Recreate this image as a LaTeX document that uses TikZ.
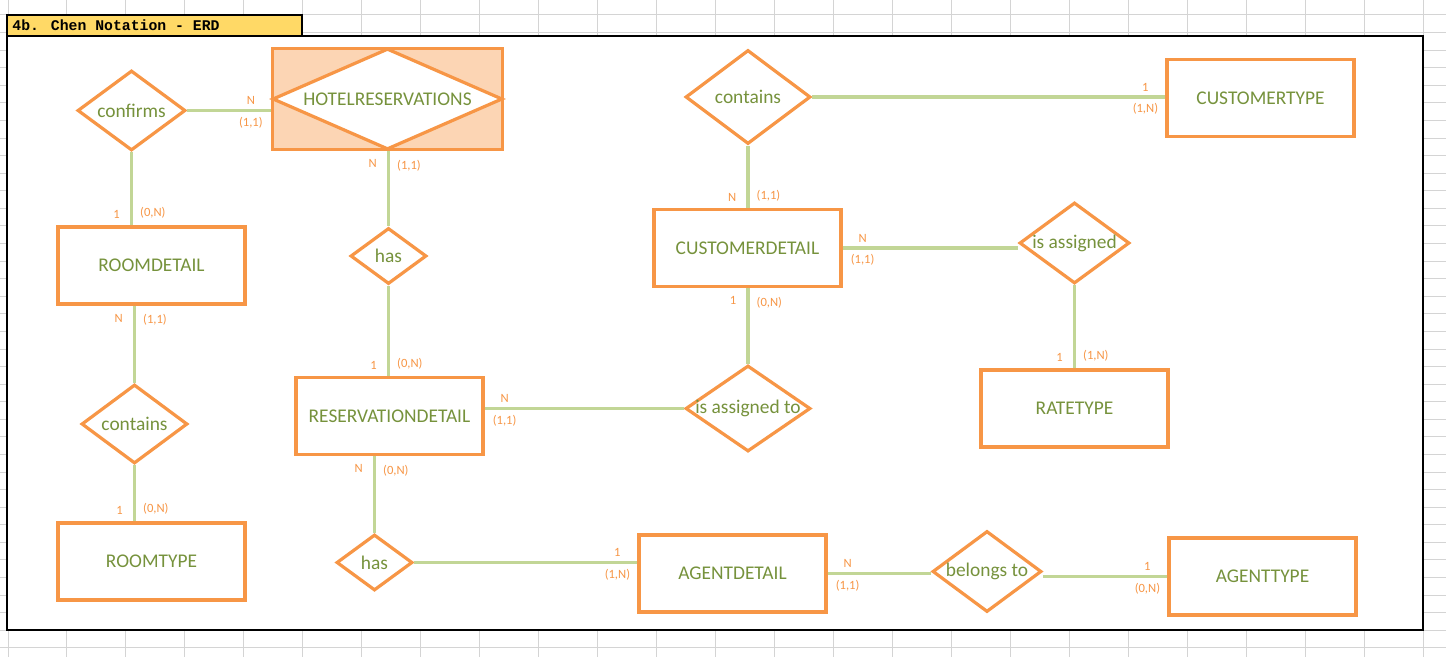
\documentclass[tikz,border=0pt]{standalone}
\usepackage{fontspec}
\setmainfont{Carlito}
\newfontfamily\sheetfont{Liberation Mono}
\usetikzlibrary{
  shapes.geometric,
  positioning,
}
\definecolor{er_orange}{RGB}{247,150,70}
\definecolor{er_green}{RGB}{118,146,60}
\definecolor{er_line}{RGB}{194,214,150}
\definecolor{er_peach}{RGB}{252,213,180}
\definecolor{er_gold}{RGB}{255,217,102}
\definecolor{er_grid}{RGB}{212,212,212}
\tikzset{
  gridline/.style={draw=er_grid, line width=0.5pt},
  entity/.style={draw=er_orange, line width=1.6pt, fill=white, inner sep=0pt,
    minimum width=93.5pt, minimum height=38.5pt, text=er_green,
    font=\fontsize{9.7}{11}\selectfont},
  relation/.style={diamond, draw=er_orange, line width=1.6pt, fill=white, inner sep=0pt,
    label={[text=er_green, font=\fontsize{9.7}{11}\selectfont, inner sep=0pt]center:#1}},
  link/.style={draw=er_line, line width=1.7pt},
  card/.style={text=er_orange, font=\fontsize{6.3}{7}\selectfont, inner sep=0.5pt},
  topl/.style={card, anchor=south east, xshift=-4.5pt, yshift=2pt},
  topr/.style={card, anchor=south west, xshift=3pt, yshift=2pt},
  botl/.style={card, anchor=north east, xshift=-4.5pt, yshift=-3pt},
  botr/.style={card, anchor=north west, xshift=3pt, yshift=-3pt},
  lefta/.style={card, anchor=south, xshift=-10pt, yshift=1.5pt},
  leftb/.style={card, anchor=north, xshift=-10pt, yshift=-2pt},
  righta/.style={card, anchor=south, xshift=10pt, yshift=1.5pt},
  rightb/.style={card, anchor=north, xshift=10pt, yshift=-2pt},
}

\begin{document}
\begin{tikzpicture}[x=0.5pt, y=-0.5pt]
  \useasboundingbox (0,0) rectangle (1446,657);

  % spreadsheet cells behind the drawing
  \foreach \k in {0,...,24} {
    \draw[gridline] ({8+58.96*\k},0) -- ++(0,657);
  }
  \foreach \k in {0,...,36} {
    \draw[gridline] (0,{15+17.58*\k}) -- ++(1446,0);
  }

  % frame and title cell
  \draw[line width=1pt, fill=white] (7,36) rectangle (1423,630);
  \draw[line width=1pt, fill=er_gold] (7,15) rectangle (302,36);
  \node[anchor=west, inner sep=0pt, font=\sheetfont\bfseries\fontsize{7.4}{8}\selectfont]
    (title) at (12,25.5) {4b. Chen Notation - ERD};

  % entities
  \node[entity, fill=er_peach, minimum width=115pt, minimum height=50.5pt] (hotel) at (387.5,99) {};
  \node[relation=HOTELRESERVATIONS, minimum width=115pt, minimum height=50.5pt] (hoteldia) at (hotel) {};
  \node[entity] (roomdetail) at (151.5,265.5) {ROOMDETAIL};
  \node[entity] (roomtype) at (151.5,561.5) {ROOMTYPE};
  \node[entity] (resdetail) at (389.5,416) {RESERVATIONDETAIL};
  \node[entity] (custdetail) at (747.5,248) {CUSTOMERDETAIL};
  \node[entity] (custtype) at (1260.5,98) {CUSTOMERTYPE};
  \node[entity] (ratetype) at (1074.5,408.5) {RATETYPE};
  \node[entity] (agentdetail) at (732.5,573.5) {AGENTDETAIL};
  \node[entity] (agenttype) at (1262.5,576.5) {AGENTTYPE};

  % relationships
  \node[relation=confirms, minimum width=54pt, minimum height=40pt] (confirms) at (131.5,110.5) {};
  \node[relation=contains, minimum width=53pt, minimum height=39.5pt] (roomcontains) at (134.5,424) {};
  \node[relation=has, minimum width=38pt, minimum height=28pt] (reshas) at (388.5,256) {};
  \node[relation={is assigned to}, minimum width=62.5pt, minimum height=43pt] (resassigned) at (748,408.5) {};
  \node[relation=contains, minimum width=62.5pt, minimum height=47pt] (custcontains) at (748,97) {};
  \node[relation={is assigned}, minimum width=55pt, minimum height=40.5pt] (rateassigned) at (1074.5,243) {};
  \node[relation=has, minimum width=38pt, minimum height=28pt] (agenthas) at (374.5,562.5) {};
  \node[relation={belongs to}, minimum width=54.5pt, minimum height=40.5pt] (belongs) at (987,571.5) {};

  % connectors with cardinalities
  \draw[link] (hotel.west |- confirms.east) node[lefta] {N} node[leftb] {(1,1)} -- (confirms.east);
  \draw[link] (confirms.south |- roomdetail.north) node[topl] {1} node[topr] {(0,N)} -- (confirms.south);
  \draw[link] (roomcontains.north |- roomdetail.south) node[botl] {N} node[botr] {(1,1)} -- (roomcontains.north);
  \draw[link] (roomcontains.south |- roomtype.north) node[topl] {1} node[topr] {(0,N)} -- (roomcontains.south);
  \draw[link] (reshas.north |- hotel.south) node[botl] {N} node[botr] {(1,1)} -- (reshas.north);
  \draw[link] (reshas.south |- resdetail.north) node[topl] {1} node[topr] {(0,N)} -- (reshas.south);
  \draw[link] (resdetail.east |- resassigned.west) node[righta] {N} node[rightb] {(1,1)} -- (resassigned.west);
  \draw[link] (resassigned.north |- custdetail.south) node[botl] {1} node[botr] {(0,N)} -- (resassigned.north);
  \draw[link] (custcontains.south |- custdetail.north) node[topl] {N} node[topr] {(1,1)} -- (custcontains.south);
  \draw[link] (custtype.west |- custcontains.east) node[lefta] {1} node[leftb] {(1,N)} -- (custcontains.east);
  \draw[link] (custdetail.east) node[righta] {N} node[rightb] {(1,1)} -- (custdetail.east -| rateassigned.west);
  \draw[link] (rateassigned.south |- ratetype.north) node[topl] {1} node[topr] {(1,N)} -- (rateassigned.south);
  \draw[link] (agenthas.north |- resdetail.south) node[botl] {N} node[botr] {(0,N)} -- (agenthas.north);
  \draw[link] (agentdetail.west |- agenthas.east) node[lefta] {1} node[leftb] {(1,N)} -- (agenthas.east);
  \draw[link] (agentdetail.east) node[righta] {N} node[rightb] {(1,1)} -- (agentdetail.east -| belongs.west);
  \draw[link] (agenttype.west) node[lefta] {1} node[leftb] {(0,N)} -- (agenttype.west -| belongs.east);
\end{tikzpicture}
\end{document}
